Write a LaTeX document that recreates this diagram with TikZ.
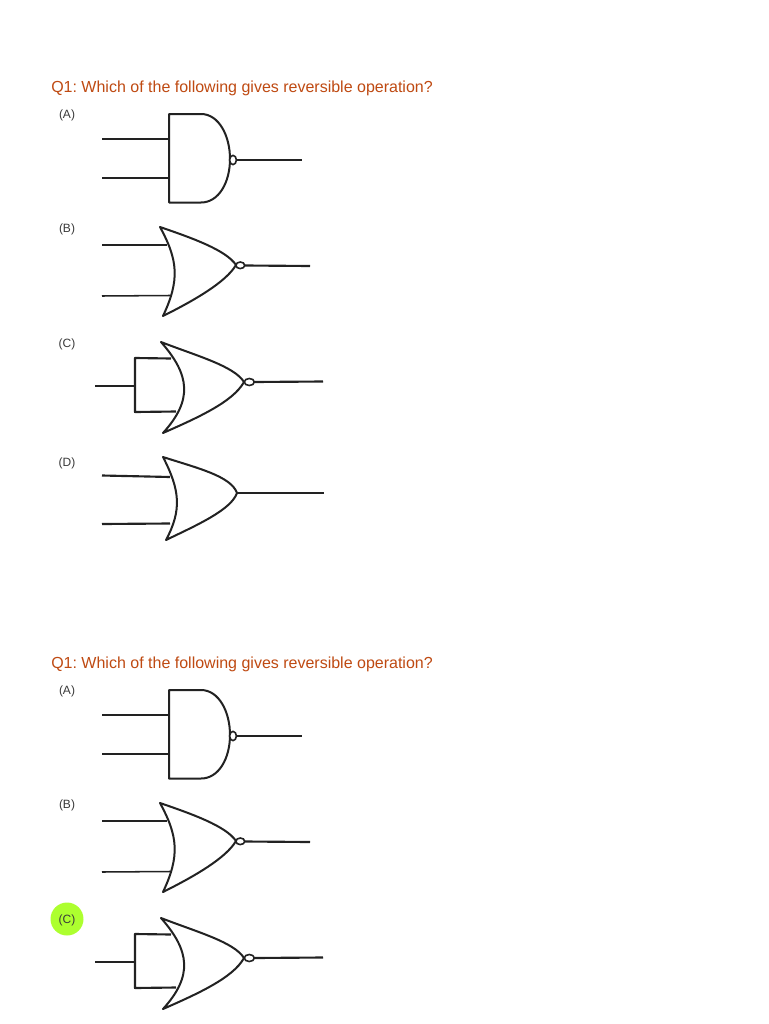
\documentclass[tikz,border=0pt]{standalone}
\usepackage{fontspec}
\setmainfont{Liberation Sans}
\frenchspacing
\definecolor{qcol}{HTML}{BF4A12}
\definecolor{lab}{HTML}{3A3A3A}
\definecolor{wire}{HTML}{222222}
\definecolor{hl}{HTML}{ADFF2F}
\tikzset{
  question/.style={anchor=west,inner sep=0pt,text=qcol,font=\fontsize{12}{14}\selectfont},
  optlabel/.style={inner sep=0pt,text=lab,font=\fontsize{9}{11}\selectfont},
  gateline/.style={draw=wire,line width=1.5pt,line join=round,line cap=round},
  wirethick/.style={draw=wire,line width=1.6pt},
  wirethin/.style={draw=wire,line width=1.15pt},
  bubble/.style={draw=wire,line width=1.2pt,fill=white},
  pics/nandgate/.style={code={
    \coordinate (-i1) at (102,139); \coordinate (-i2) at (102,178);
    \coordinate (-b1) at (169,139); \coordinate (-b2) at (169,178);
    \coordinate (-o) at (236.5,160); \coordinate (-e) at (302,160);
    \draw[wirethick] (-i1) -- (-b1);
    \draw[wirethick] (-i2) -- (-b2);
    \draw[wirethick] (-o) -- (-e);
    \draw[gateline] (169,114) -- (201,114) .. controls (219,114) and (230,136) .. (230,159)
       .. controls (230,182) and (219,202.5) .. (201,202.5) -- (169,202.5) -- cycle;
    \draw[bubble] (233,160) ellipse [x radius=3.4,y radius=4.6];
  }},
  pics/norb/.style={code={
    \coordinate (-i1) at (102,245); \coordinate (-i2) at (102,296);
    \coordinate (-b1) at (167,245); \coordinate (-b2) at (170,295.5);
    \coordinate (-o) at (245,265.5); \coordinate (-e) at (310,266);
    \draw[wirethick] (-i1) -- (-b1);
    \draw[wirethin] (-i2) -- (-b2);
    \draw[wirethick] (-o) -- (-e);
    \draw[gateline] (160,227) .. controls (192,238) and (226,250) .. (236,265)
       .. controls (226,282) and (195,300) .. (163,316)
       .. controls (180,280) and (178,260) .. (160,227) -- cycle;
    \draw[bubble] (240.3,265.3) ellipse [x radius=4.4,y radius=3.3];
  }},
  pics/norc/.style={code={
    \coordinate (-i) at (95,386); \coordinate (-j) at (135,386);
    \coordinate (-t) at (135,358); \coordinate (-u) at (135,412);
    \coordinate (-b1) at (171,358.5); \coordinate (-b2) at (176,411.5);
    \coordinate (-o) at (254,382); \coordinate (-e) at (323,381.5);
    \draw[wirethick] (-i) -- (-j);
    \draw[wirethick,line join=round] (-b1) -- (-t) -- (-u) -- (-b2);
    \draw[wirethick] (-o) -- (-e);
    \draw[gateline] (161,342) .. controls (197,356) and (234,366) .. (244,382)
       .. controls (233,402) and (197,418) .. (163,433)
       .. controls (193,400) and (190,375) .. (161,342) -- cycle;
    \draw[bubble] (249.3,382) ellipse [x radius=5,y radius=3.5];
  }},
  pics/orgate/.style={code={
    \coordinate (-i1) at (102,475.5); \coordinate (-i2) at (102,524);
    \coordinate (-b1) at (170,477); \coordinate (-b2) at (170,523.5);
    \coordinate (-o) at (237,493); \coordinate (-e) at (324,493);
    \draw[wirethick] (-i1) -- (-b1);
    \draw[wirethick] (-i2) -- (-b2);
    \draw[draw=wire,line width=0.9pt] (-o) -- (-e);
    \draw[gateline] (163,457) .. controls (197,468) and (231,476) .. (237,493)
       .. controls (231,510) and (197,525) .. (166,540)
       .. controls (182,510) and (180,490) .. (163,457) -- cycle;
  }},
}
\begin{document}
\begin{tikzpicture}[x=0.75pt,y=-0.75pt]
\useasboundingbox (0,0) rectangle (768,1024);
\fill[white] (0,0) rectangle (768,1024);

\node[question] (q1) at (51,88) {Q1: Which of the following gives reversible operation?};
\node[optlabel] (a1) at (67,115.5) {(A)};
\node[optlabel] (b1) at (67,229.5) {(B)};
\node[optlabel] (c1) at (67,344) {(C)};
\node[optlabel] (d1) at (67,463.5) {(D)};
\pic (ga1) at (0,0) {nandgate};
\pic (gb1) at (0,0) {norb};
\pic (gc1) at (0,0) {norc};
\pic (gd1) at (0,0) {orgate};

\node[question] (q2) at (51,664) {Q1: Which of the following gives reversible operation?};
\node[optlabel] (a2) at (67,691.5) {(A)};
\node[optlabel] (b2) at (67,805.5) {(B)};
\node[circle,fill=hl,minimum size=24.75pt,inner sep=0pt] (hlc) at (67,919) {};
\node[optlabel] (c2) at (67,920) {(C)};
\begin{scope}[yshift=-432pt]
\pic (ga2) at (0,0) {nandgate};
\pic (gb2) at (0,0) {norb};
\pic (gc2) at (0,0) {norc};
\end{scope}
\end{tikzpicture}
\end{document}
